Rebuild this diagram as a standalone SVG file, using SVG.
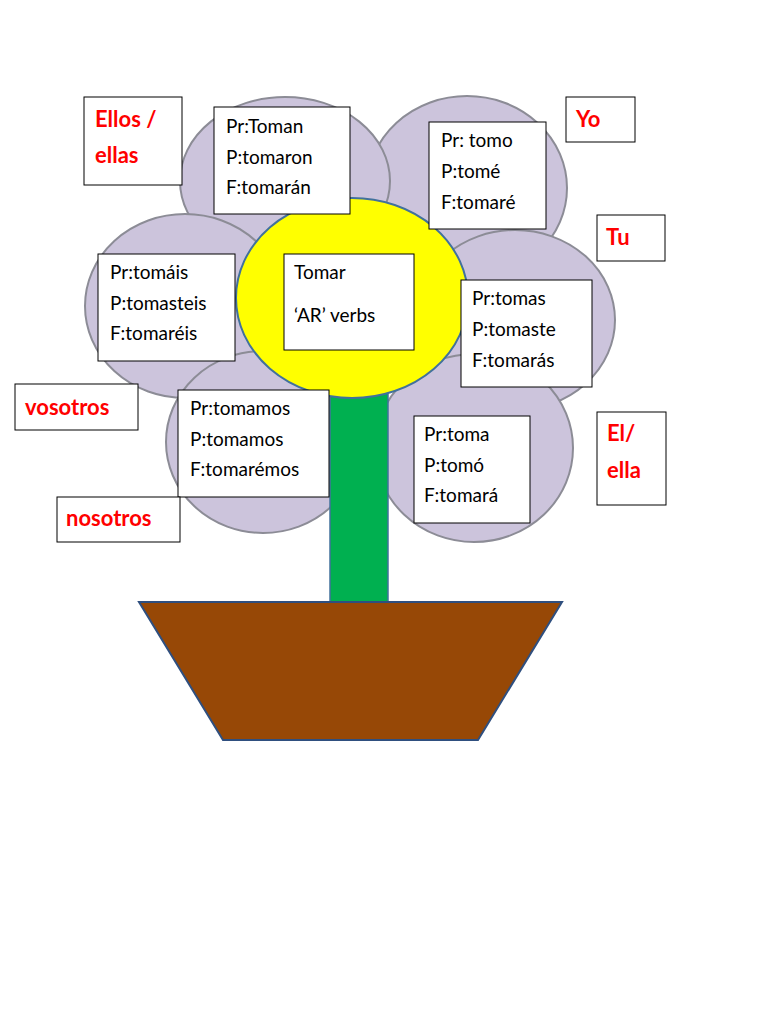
<svg xmlns="http://www.w3.org/2000/svg" width="768" height="1024" viewBox="0 0 768 1024">
<style>
.p{fill:#ccc4dc;stroke:#8c8c96;stroke-width:2}
.b{fill:#fff;stroke:#000;stroke-width:1}
.t{font-family:Lato,"Liberation Sans",sans-serif;font-size:19px;fill:#000}
.r{font-family:Lato,"Liberation Sans",sans-serif;font-size:22px;font-weight:bold;fill:#ff0000}
</style>
<rect width="768" height="1024" fill="#fff"/>
<g id="petals">
<ellipse class="p" cx="467" cy="188" rx="100" ry="92"/>
<ellipse class="p" cx="285" cy="181" rx="105" ry="84"/>
<ellipse class="p" cx="515" cy="320" rx="100" ry="90"/>
<ellipse class="p" cx="185" cy="306" rx="100" ry="92"/>
<ellipse class="p" cx="474" cy="448" rx="99" ry="94"/>
<ellipse class="p" cx="263" cy="442" rx="97" ry="91"/>
</g>
<g id="stem"><rect x="330" y="385" width="58" height="219" fill="#00b050" stroke="#41719c" stroke-width="1.5"/></g>
<g id="center"><ellipse cx="352" cy="298" rx="116" ry="100" fill="#ffff00" stroke="#41719c" stroke-width="2"/></g>
<g id="pot"><polygon points="139,602 562,602 478,740 223,740" fill="#974806" stroke="#2f4f7f" stroke-width="2"/></g>
<g id="connectors"/>
<g id="ellos"><rect class="b" x="84" y="97" width="98" height="88"/><text class="r" x="95" y="127">Ellos /</text><text class="r" x="95" y="163">ellas</text></g>
<g id="toman"><rect class="b" x="214" y="107" width="136" height="107"/><text class="t" x="226" y="133">Pr:Toman</text><text class="t" x="226" y="164">P:tomaron</text><text class="t" x="226" y="194">F:tomarán</text></g>
<g id="yo"><rect class="b" x="566" y="97" width="69" height="45"/><text class="r" x="576" y="127">Yo</text></g>
<g id="tomo"><rect class="b" x="429" y="122" width="117" height="107"/><text class="t" x="441" y="147">Pr: tomo</text><text class="t" x="441" y="178">P:tomé</text><text class="t" x="441" y="209">F:tomaré</text></g>
<g id="tu"><rect class="b" x="597" y="215" width="68" height="46"/><text class="r" x="606" y="245">Tu</text></g>
<g id="tomais"><rect class="b" x="98" y="254" width="137" height="107"/><text class="t" x="110" y="279">Pr:tomáis</text><text class="t" x="110" y="310">P:tomasteis</text><text class="t" x="110" y="340">F:tomaréis</text></g>
<g id="tomar"><rect class="b" x="284" y="254" width="130" height="96"/><text class="t" x="294" y="279">Tomar</text><text class="t" x="294" y="322">‘AR’ verbs</text></g>
<g id="tomas"><rect class="b" x="461" y="280" width="131" height="107"/><text class="t" x="472" y="305">Pr:tomas</text><text class="t" x="472" y="336">P:tomaste</text><text class="t" x="472" y="367">F:tomarás</text></g>
<g id="vosotros"><rect class="b" x="15" y="384" width="123" height="46"/><text class="r" x="25" y="415">vosotros</text></g>
<g id="tomamos"><rect class="b" x="178" y="390" width="151" height="107"/><text class="t" x="190" y="415">Pr:tomamos</text><text class="t" x="190" y="446">P:tomamos</text><text class="t" x="190" y="476">F:tomarémos</text></g>
<g id="toma"><rect class="b" x="414" y="416" width="116" height="107"/><text class="t" x="424" y="441">Pr:toma</text><text class="t" x="424" y="472">P:tomó</text><text class="t" x="424" y="502">F:tomará</text></g>
<g id="el"><rect class="b" x="597" y="412" width="69" height="93"/><text class="r" x="607" y="441">El/</text><text class="r" x="607" y="478">ella</text></g>
<g id="nosotros"><rect class="b" x="57" y="497" width="123" height="45"/><text class="r" x="66" y="526">nosotros</text></g>
</svg>
